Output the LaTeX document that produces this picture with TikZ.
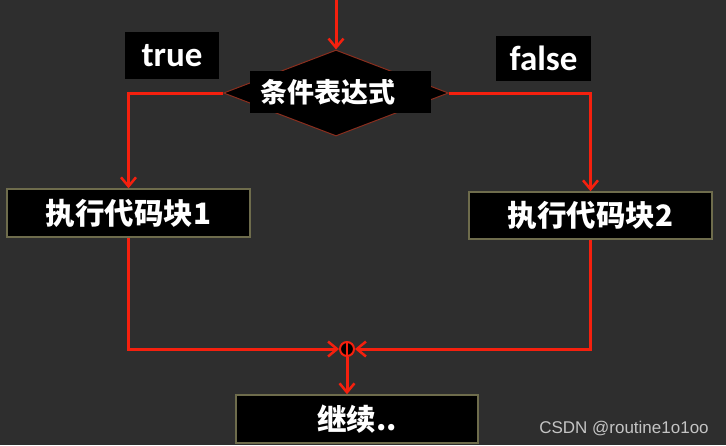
\documentclass[tikz,border=0pt]{standalone}
\usepackage{fontspec}
\newfontfamily\cjk{Noto Sans CJK SC}
\newfontfamily\carl{Carlito}
\newfontfamily\wm{Liberation Sans}
\usetikzlibrary{shapes.geometric,arrows.meta}
\definecolor{bg}{HTML}{2E2E2E}
\definecolor{flow}{HTML}{F5200E}
\definecolor{rim}{HTML}{6E6C4C}
\definecolor{drim}{HTML}{8A2E1E}
\definecolor{wmark}{HTML}{C4C4C4}
\begin{document}
\begin{tikzpicture}[x=1pt,y=-1pt,
  codebox/.style={draw=rim,line width=1.5pt,fill=black,text=white,inner sep=0pt,
     minimum width=243pt,minimum height=48pt,font=\cjk\bfseries\fontsize{29.5}{31}\selectfont},
  labelbox/.style={fill=black,text=white,inner sep=0pt,font=\carl\bfseries\fontsize{35}{37}\selectfont},
  flowline/.style={draw=flow,line width=3pt},
  flowarrow/.style={flowline,-{Straight Barb[length=9pt,width=15pt,line width=2.5pt]}}]
\fill[bg] (0,0) rectangle (726,445);
\useasboundingbox (0,0) rectangle (726,445);
\coordinate (start) at (336,0);
\node[diamond,draw=drim,line width=1pt,fill=black,inner sep=0pt,
  minimum width=225pt,minimum height=86pt,aspect=2.6] (cond) at (336,93) {};
\node[fill=black,text=white,inner ysep=0pt,inner xsep=10pt,text width=161pt,align=left,
  minimum height=42pt,font=\cjk\bfseries\fontsize{27}{29}\selectfont] (condtext) at (340.5,92) {条件表达式};
\node[labelbox,minimum width=94pt,minimum height=47pt] (truelab) at (172,55.5) {true};
\node[labelbox,minimum width=95pt,minimum height=45pt] (falselab) at (543.5,58.5) {false};
\node[codebox] (blk1) at (128.5,213) {执行代码块1};
\node[codebox,minimum height=47pt] (blk2) at (590.5,215.5) {执行代码块2};
\node[codebox,minimum width=242pt] (cont) at (357,419) {继续..};
\node[circle,draw=flow,line width=2pt,fill=black,inner sep=0pt,minimum size=14pt] (join) at (347,349) {};
\draw[flow,line width=2pt] (join.north) -- (join.south);
\draw[flowarrow] (start) -- (cond.north);
\draw[flowarrow] (cond.west) -| (blk1.north);
\draw[flowarrow] (cond.east) -| (blk2.north);
\draw[flowarrow] (blk1.south) |- (join.west);
\draw[flowarrow] (blk2.south) |- (join.east);
\draw[flowarrow] (join.south) -- (join.south |- cont.north);
\node[text=wmark,font=\wm\fontsize{17}{19}\selectfont,inner sep=0pt] (mark) at (624,429) {CSDN @routine1o1oo};
\end{tikzpicture}
\end{document}
